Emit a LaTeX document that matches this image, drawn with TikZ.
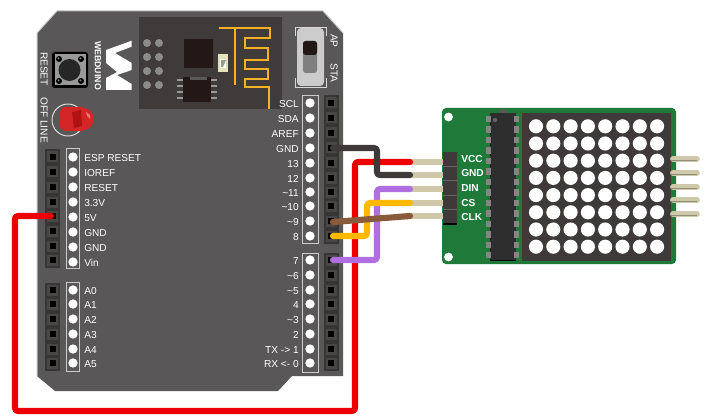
\documentclass[tikz,border=0pt]{standalone}
\usepackage{fontspec}
\setmainfont{Liberation Sans}
\usetikzlibrary{calc}
\definecolor{boardc}{HTML}{595757}
\definecolor{espc}{HTML}{3F3B3A}
\definecolor{chipc}{HTML}{231815}
\definecolor{antc}{HTML}{F5B024}
\definecolor{sockc}{HTML}{3E3C3B}
\definecolor{greenc}{HTML}{1F7A3A}
\definecolor{matc}{HTML}{3E3A39}
\definecolor{pinc}{HTML}{CFC9A9}
\definecolor{wred}{HTML}{EE0000}
\definecolor{wblack}{HTML}{3E3A39}
\definecolor{wpurple}{HTML}{AF6FE0}
\definecolor{worange}{HTML}{FFB900}
\definecolor{wbrown}{HTML}{8A5A3C}
\tikzset{
 x=0.75pt,y=-0.75pt,
 lbl/.style={text=white,font=\fontsize{7.6}{9}\selectfont,inner sep=0pt},
 lblL/.style={lbl,anchor=west},
 lblR/.style={lbl,anchor=east},
 lblV/.style={lbl,rotate=-90},
 modlbl/.style={lbl,anchor=west,font=\fontsize{7.6}{9}\selectfont\bfseries},
 pinhole/.style={circle,fill=white,draw=none,minimum size=7pt,inner sep=0pt},
 pinbox/.style={draw=white!80!black,line width=0.75pt,fill=none},
 wire/.style={line width=4.6pt,line cap=round,line join=round,rounded corners=2.2pt},
 matdot/.style={circle,fill=white,minimum size=10.6pt,inner sep=0pt},
 tanpin/.style={line width=4.4pt,draw=pinc},
}
\newcommand{\socket}[3]{% x, y, name
 \fill[sockc!90!black] (#1-7.5,#2-7.5) rectangle (#1+7.5,#2+7.5);
 \fill[sockc!60!boardc] (#1-5.5,#2-5.5) rectangle (#1+5.5,#2+5.5);
 \fill[black] (#1-3,#2-3) rectangle (#1+3,#2+3);
 \coordinate (#3) at (#1,#2);
}
\begin{document}
\begin{tikzpicture}
\useasboundingbox[fill=white] (0,0) rectangle (712,420);
% board
\fill[boardc] (37,33) -- (57,11) -- (323,11) -- (343,33) -- (343,376) -- (292,376) -- (278,391) -- (55,391) -- (37,376) -- cycle;
\draw[black!22,line width=0.75pt,line join=round] (37,376) -- (37,33) -- (57,11) -- (323,11) -- (343,33);
% ESP module
\fill[espc] (139,17) rectangle (282,109);
\foreach \x in {147,159} \foreach \y in {43,57,71,85} \fill[black!45] (\x,\y) circle[radius=4];
\fill[chipc] (184,39) rectangle (213,68);
\fill[chipc] (183,77) rectangle (211,102);
\fill[black!65] (190,77) rectangle (207,80);
\foreach \y in {80,86,92,98} {
 \fill[black!40] (177,\y-1) rectangle (183,\y+1);
 \fill[black!40] (211,\y-1) rectangle (217,\y+1);
}
\fill[yellow!60!black!30!white] (218,54) rectangle (228,72);
\fill[white] (220,59) rectangle (226,68);
\fill[black!40] (221,60) -- (226,60) -- (223,67) -- (221,67) -- cycle;
\draw[antc,line width=2.2pt] (219,28) -- (270,28) -- (270,38) -- (245,38) -- (245,48) -- (268,48) -- (268,60) -- (245,60) -- (245,69) -- (268,69) -- (268,79) -- (245,79) -- (245,87) -- (269,87) -- (269,109);
\draw[antc,line width=2.2pt] (235,28) -- (235,85);
% switch
\draw[white!85!black,line width=0.7pt] (295,36) -- (295,27) -- (326,27) -- (326,36) (295,78) -- (295,87) -- (326,87) -- (326,78);
\fill[black!20,rounded corners=3pt] (297,28) rectangle (324,86);
\fill[black!50,rounded corners=2pt] (303,41) rectangle (317,73);
\fill[chipc,rounded corners=2pt] (303,41) rectangle (317,55);
\node[lblV] (ap) at (334,41) {AP};
\node[lblV] (sta) at (334,73) {STA};
% logo
\node[lblV,font=\fontsize{6.6}{8}\selectfont\bfseries] (web) at (98,65.5) {WEBDUINO};
\fill[white] (131.7,40.7) -- (131.7,46.7) -- (115,53) -- (131.7,63) -- (131.7,70) -- (117,75) -- (131.7,84) -- (131.7,90) -- (106,90) -- (106,78) -- (117,72) -- (106,63) -- (106,50) -- cycle;
\node[lblV,font=\fontsize{4.5}{5}\selectfont] (iotext) at (129,88) {io};
\node[lblV] (reset) at (44,69) {RESET};
\node[lblV] (offline) at (44,120) {OFF LINE};
% button
\fill[black,rounded corners=2pt] (52,52) rectangle (88,88);
\fill[black!40] (54.5,54.5) rectangle (85.5,85.5);
\fill[black!85] (69.5,70) circle[radius=11];
\foreach \x in {59,81} \foreach \y in {59,81} {
 \fill[black] (\x,\y) circle[radius=3];
 \fill[black!45] (\x-0.5,\y-0.5) circle[radius=1];
}
% LED
\draw[white!90!black,line width=0.7pt] (68,120) circle[radius=16];
\fill[red!80!black!85!white] (64,107) -- (78,107) .. controls (89,107) and (94,113) .. (94,119) .. controls (94,125) and (89,131) .. (78,131) -- (66,131) .. controls (61,130) and (59,127) .. (59,119) .. controls (59,111) and (61,108) .. (64,107) -- cycle;
\fill[red!55!black,opacity=.5] (72,112) -- (81,110) -- (82,126) -- (74,128) -- cycle;
\fill[white,opacity=.4] (86,112) -- (90,115) -- (90,119) -- (87,116) -- cycle;
% left headers
\foreach \y/\n in {157/1,172/2,187/3,202/4,216/5,231/6,246/7,260/8} {\socket{52.5}{\y}{L\n}}
\foreach \y/\n in {290/1,304/2,319/3,334/4,349/5,363/6} {\socket{52.5}{\y}{A\n}}
\draw[pinbox] (66.5,149) rectangle (79.5,268);
\draw[pinbox] (66.5,282) rectangle (79.5,371);
\foreach \y/\t/\n in {157/ESP RESET/a,172/IOREF/b,187/RESET/c,202/3.3V/d,217/5V/e,232/GND/f,247/GND/g,262/Vin/h,290/A0/i,304/A1/j,319/A2/k,334/A3/l,349/A4/m,363/A5/n} {
 \node[pinhole] (p\n) at (73,\y) {};
 \node[lblL] (t\n) at (84,\y+1) {\t};
}
% right headers
\foreach \y/\n in {103/1,118/2,133/3,148/4,163/5,178/6,192/7,206/8,221/9,236/10,260/11,275/12,290/13,304/14,319/15,334/16,349/17,363/18} {\socket{331}{\y}{R\n}}
\draw[pinbox] (302.5,96) rectangle (318.5,243);
\draw[pinbox] (302.5,253) rectangle (318.5,372);
\foreach \y/\t/\n in {103/SCL/a,118/SDA/b,133/AREF/c,148/GND/d,163/13/e,178/12/f,192/\textasciitilde 11/g,206/\textasciitilde 10/h,221/\textasciitilde 9/i,236/8/j,260/7/k,275/\textasciitilde 6/l,290/\textasciitilde 5/m,304/4/n,319/\textasciitilde 3/o,334/2/q,349/TX -> 1/r,363/RX <- 0/s} {
 \node[pinhole] (q\n) at (310,\y) {};
 \node[lblR] (u\n) at (299,\y+1) {\t};
}
% matrix module
\fill[greenc,rounded corners=3pt] (442,108) rectangle (676,264);
\fill[white] (448.5,117) circle[radius=4.4] (448.5,257) circle[radius=4.4];
% chip
\fill[black!82] (489.5,113) rectangle (516,261);
\foreach \i in {0,...,13} {
 \fill[black!48] (486,\i*10.46+116) -- (491,\i*10.46+116) -- (491,\i*10.46+122.5) -- (486,\i*10.46+122.5) -- cycle;
 \fill[black!48] (514,\i*10.46+116) -- (519,\i*10.46+116) -- (519,\i*10.46+122.5) -- (514,\i*10.46+122.5) -- cycle;
 \fill[black] (489.5,\i*10.46+123) rectangle (491,\i*10.46+125);
}
\fill[black] (490,260) rectangle (516,261);
\fill[black!65] (499,113) arc[start angle=180,end angle=360,radius=4] -- cycle;
\fill[black!62] (495,120) circle[radius=2.2];
% dot matrix
\fill[matc] (522,113) rectangle (671,261);
\foreach \c in {0,...,7} \foreach \r in {0,...,7} \node[matdot] (m\c\r) at (\c*17.3+536,\r*17.2+126.3) {};
% right pins
\foreach \y in {159,173,187,200,214} {
 \draw[tanpin,line cap=round] (673,\y) -- (697,\y);
 \fill[black!30!pinc] (671,\y+1) rectangle (697,\y+2.4);
}
% left pins and header
\coordinate (mv) at (410,162);
\coordinate (mg) at (410,175);
\coordinate (md) at (410,189);
\coordinate (mc) at (410,203);
\coordinate (mk) at (410,216);
\foreach \n in {mv,mg,md,mc,mk} {
 \draw[tanpin] (\n) -- ++(33,0);
}
\fill[matc] (443,152) rectangle (457,224);
\fill[black] (443,223) rectangle (457,224.5);
\foreach \y in {166,180,195,209} \fill[black!60] (443,\y) rectangle (457,\y+0.7);
\foreach \y/\t/\n in {159.5/VCC/v,173.5/GND/g,188.5/DIN/d,203.5/CS/c,217.5/CLK/k} {
 \node[modlbl] (h\n) at (461,\y) {\t};
}
% wires
\coordinate (w1) at ($(L5)+(-1.5,0)$);
\coordinate (w1a) at (15,216);
\coordinate (w1b) at (15,411);
\coordinate (w1c) at (355,411);
\coordinate (w1d) at (355,162);
\coordinate (wb0) at ($(R4)+(2,0)$);
\coordinate (wp0) at ($(R11)+(2,0)$);
\coordinate (wo0) at ($(R10)+(2,0)$);
\coordinate (wn0) at ($(R9)+(2,1)$);
\draw[wire,wred] (w1) -- (w1a) -- (w1b) -- (w1c) -- (w1d) -- (mv);
\draw[wire,wpurple] (wp0) -- (377,260) -- (377,189) -- (md);
\draw[wire,wblack] (wb0) -- (377,148) -- (377,175) -- (mg);
\draw[wire,worange] (wo0) -- (367,236) -- (367,203) -- (mc);
\draw[wire,wbrown] (wn0) -- (mk);
\end{tikzpicture}
\end{document}
